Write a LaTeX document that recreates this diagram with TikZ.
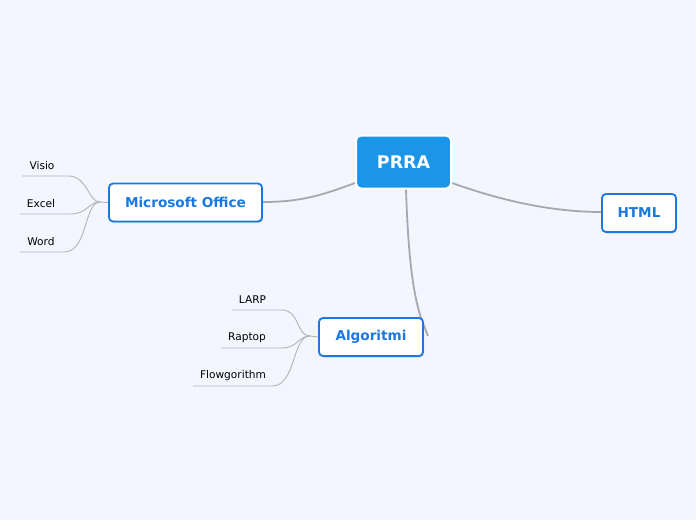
\documentclass[tikz,border=0pt]{standalone}
\usepackage{fontspec}
\setmainfont{DejaVu Sans}
\usetikzlibrary{shadows}
\definecolor{bgcol}{HTML}{F3F6FE}
\definecolor{rootcol}{HTML}{1B95E8}
\definecolor{topiccol}{HTML}{1A78E0}
\definecolor{linecol}{HTML}{A8A8AC}
\definecolor{sublinecol}{HTML}{B4B4B8}
\tikzset{
  root/.style={draw=white, line width=2pt, fill=rootcol, rounded corners=5pt,
    text=white, font=\fontsize{17.4}{20}\selectfont\bfseries,
    minimum width=95pt, minimum height=53pt, inner sep=0pt},
  topic/.style={draw=topiccol, line width=1.8pt, fill=white, rounded corners=4pt,
    text=topiccol, font=\fontsize{13.6}{16}\selectfont\bfseries,
    minimum height=38pt, inner sep=0pt,
    drop shadow={shadow xshift=1pt, shadow yshift=-1.5pt, opacity=0.3}},
  leaf/.style={font=\fontsize{10.6}{12}\selectfont, text=black, inner sep=0pt},
  mainline/.style={linecol, line width=1.8pt},
  subline/.style={sublinecol, line width=0.9pt}
}
\begin{document}
\begin{tikzpicture}[x=1pt,y=-1pt]
\useasboundingbox[fill=bgcol] (0,0) rectangle (696,520);

% connectors from the root
\draw[mainline] (355,183) .. controls (320,196) and (300,202) .. (262,202);
\draw[mainline] (452,183) .. controls (500,200) and (550,212) .. (602,212);
\draw[mainline] (406,189) .. controls (408,250) and (412,290) .. (421,318) -- (428,336);

\node[root] (prra) at (403.5,162) {PRRA};
\node[topic, minimum width=153pt] (office) at (185.5,202.5) {Microsoft Office};
\node[topic, minimum width=74pt] (html) at (639,213) {HTML};
\node[topic, minimum width=104pt] (algo) at (371,337) {Algoritmi};

% leaves of Microsoft Office
\coordinate (officejoin) at (100,202);
\node[leaf] (visio) at (42,165.5) {Visio};
\node[leaf] (excel) at (41,203.5) {Excel};
\node[leaf] (word) at (41,241.5) {Word};
\draw[subline] (22,176) -- (68,176) .. controls (88,176) and (88,202) .. (officejoin) -- (office.west);
\draw[subline] (20,214) -- (70,214) .. controls (88,214) and (88,202) .. (officejoin);
\draw[subline] (20,252) -- (64,252) .. controls (88,252) and (84,202) .. (officejoin);

% leaves of Algoritmi
\coordinate (algojoin) at (310,336);
\node[leaf] (larp) at (252.5,299.5) {LARP};
\node[leaf] (raptop) at (247,337.5) {Raptop};
\node[leaf] (flow) at (233,375.5) {Flowgorithm};
\draw[subline] (232,310) -- (282,310) .. controls (300,310) and (296,336) .. (algojoin) -- (algo.west);
\draw[subline] (221,348) -- (282,348) .. controls (298,348) and (298,336) .. (algojoin);
\draw[subline] (193,386) -- (272,386) .. controls (296,386) and (292,336) .. (algojoin);
\end{tikzpicture}
\end{document}
